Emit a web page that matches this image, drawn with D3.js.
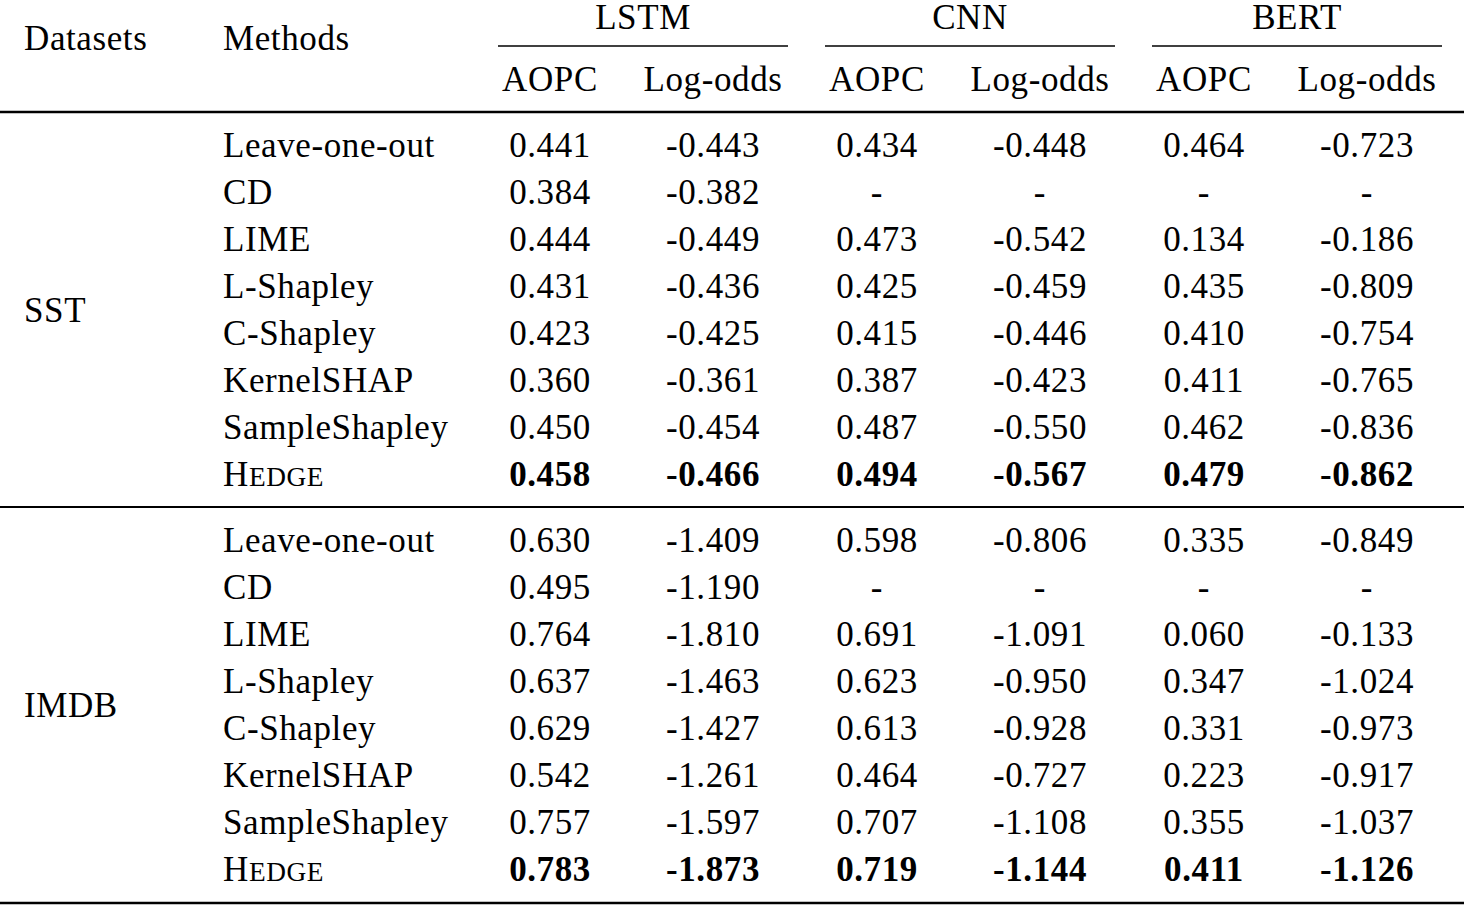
<!DOCTYPE html>
<html><head><meta charset="utf-8">
<script src="https://cdn.jsdelivr.net/npm/d3@7"></script>
<style>body{margin:0;background:#fff}svg text{font-family:"Liberation Serif","Times New Roman",serif;fill:#000}</style>
</head><body><svg id="c" width="1464" height="908"></svg>
<script>
const methods=["Leave-one-out","CD","LIME","L-Shapley","C-Shapley","KernelSHAP","SampleShapley","HEDGE"];
const models=["LSTM","CNN","BERT"];
const metrics=["AOPC","Log-odds"];
const datasets=["SST","IMDB"];
const sstValues=[
["0.441","-0.443","0.434","-0.448","0.464","-0.723"],
["0.384","-0.382","-","-","-","-"],
["0.444","-0.449","0.473","-0.542","0.134","-0.186"],
["0.431","-0.436","0.425","-0.459","0.435","-0.809"],
["0.423","-0.425","0.415","-0.446","0.410","-0.754"],
["0.360","-0.361","0.387","-0.423","0.411","-0.765"],
["0.450","-0.454","0.487","-0.550","0.462","-0.836"],
["0.458","-0.466","0.494","-0.567","0.479","-0.862"]];
const imdbValues=[
["0.630","-1.409","0.598","-0.806","0.335","-0.849"],
["0.495","-1.190","-","-","-","-"],
["0.764","-1.810","0.691","-1.091","0.060","-0.133"],
["0.637","-1.463","0.623","-0.950","0.347","-1.024"],
["0.629","-1.427","0.613","-0.928","0.331","-0.973"],
["0.542","-1.261","0.464","-0.727","0.223","-0.917"],
["0.757","-1.597","0.707","-1.108","0.355","-1.037"],
["0.783","-1.873","0.719","-1.144","0.411","-1.126"]];
const tables={SST:sstValues,IMDB:imdbValues};

const svg=d3.select("#c");
const fs=35;
const groupX=d3.scalePoint().domain(models).range([643,1297]);
const colCenters=[550,713,877,1040,1204,1367];
const colXc=i=>colCenters[i];
const dsY=d3.scalePoint().domain(datasets).range([145,540]);
const rowY=d3.scalePoint().domain(methods).range([0,329]);

function rule(y,x1,x2,w){svg.append("line").attr("x1",x1).attr("x2",x2).attr("y1",y).attr("y2",y).attr("stroke","#000").attr("stroke-width",w);}
function txt(x,y,s,anchor,bold){return svg.append("text").attr("x",x).attr("y",y).attr("dy","0.35em").attr("font-size",fs).attr("letter-spacing",0.6).attr("text-anchor",anchor||"start").attr("font-weight",bold?"bold":"normal").text(s);}

txt(24,38,"Datasets");
txt(223,38,"Methods");
models.forEach(m=>{const cx=groupX(m);txt(cx,17,m,"middle");rule(46,cx-145,cx+145,1.5);});
models.forEach((m,mi)=>metrics.forEach((k,ki)=>txt(colXc(mi*2+ki),79,k,"middle")));
rule(112,0,1464,2.5);
rule(507,0,1464,2);
rule(903,0,1464,2.5);

datasets.forEach(ds=>{
  const y0=dsY(ds);
  txt(24,y0+rowY(methods[3])+23.5,ds);
  methods.forEach((m,ri)=>{
    const y=y0+rowY(m);
    if(m==="HEDGE"){
      const t=txt(223,y,"");
      t.append("tspan").text("H");
      t.append("tspan").attr("font-size",fs*0.78).text("EDGE");
    } else txt(223,y,m);
    tables[ds][ri].forEach((v,ci)=>txt(colXc(ci),y,v,"middle",m==="HEDGE"));
  });
});
</script></body></html>
